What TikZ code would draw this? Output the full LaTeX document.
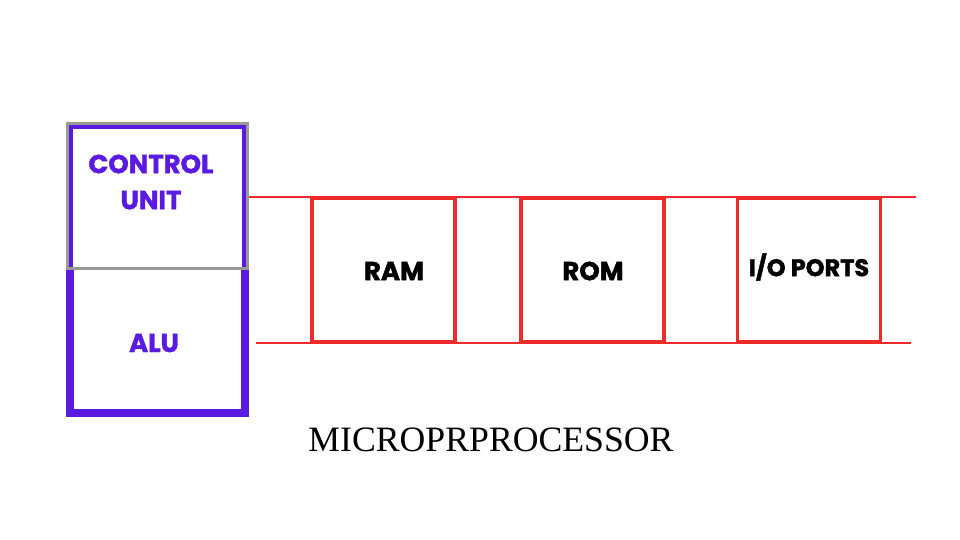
\documentclass[tikz,border=0pt]{standalone}
\usepackage{fontspec}
\setmainfont{Liberation Serif}
\newfontfamily\pop{Poppins}[UprightFont=* Bold,UprightFeatures={FakeBold=1.5}]
\definecolor{pur}{HTML}{5B1AE0}
\definecolor{rd}{HTML}{EE2A2A}
\definecolor{gr}{HTML}{999999}
\begin{document}
\begin{tikzpicture}[x=1pt,y=-1pt,
  lbl/.style={text=pur,align=center},
  blk/.style={font=\pop\fontsize{26}{30}\selectfont,text=black},
  rbox/.style={draw=rd,line width=3.5pt}]
\useasboundingbox[fill=white] (0,0) rectangle (960,540);
% red bus lines
\draw[rd,line width=1.5pt] (249,197) coordinate (t1) -- (916,197) coordinate (t2);
\draw[rd,line width=1.5pt] (256,343) coordinate (b1) -- (911,343) coordinate (b2);
% boxes
\node[rbox,minimum width=143,minimum height=144,inner sep=0] (ram) at (383.5,270) {};
\node[rbox,minimum width=143,minimum height=144,inner sep=0] (rom) at (592.5,270) {};
\node[rbox,minimum width=143,minimum height=144,inner sep=0] (io) at (809,270) {};
\node[blk] (ramt) at (394,271) {RAM};
\node[blk] (romt) at (593,271) {ROM};
\node[blk,font=\pop\fontsize{24}{28}\selectfont] (iot) at (809,267) {I/O PORTS};
% CPU block
\draw[pur,line width=8pt] (70,268) -- (70,413) -- (245,413) -- (245,268);
\draw[pur,line width=4pt] (71,268) -- (71,127) -- (244,127) -- (244,268);
\draw[gr,line width=3pt] (67.5,268) -- (67.5,123.5) -- (247.5,123.5) -- (247.5,268);
\draw[gr,line width=3pt] (66,268) -- (249,268);
\node[lbl,font=\pop\fontsize{26}{36}\selectfont] (cu) at (151,182) {CONTROL\\UNIT};
\node[lbl,font=\pop\fontsize{26}{30}\selectfont] (alu) at (154,343) {ALU};
\node[font=\fontsize{35.7}{40}\selectfont] (title) at (491,440) {MICROPRPROCESSOR};
\end{tikzpicture}
\end{document}
